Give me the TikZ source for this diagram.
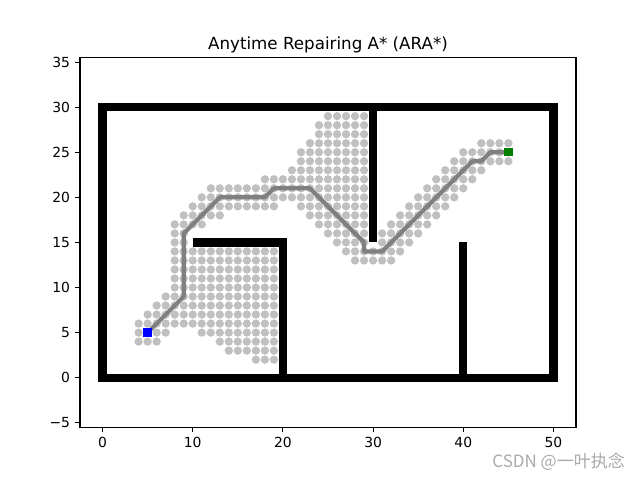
\documentclass[tikz,border=0pt]{standalone}
\usepackage{fontspec}
\setmainfont{DejaVu Sans}
\newfontfamily\cjk{Noto Sans CJK SC}
\definecolor{dotc}{RGB}{192,192,192}
\definecolor{pathc}{RGB}{128,128,128}
\definecolor{goalc}{RGB}{0,128,0}
\definecolor{wmark}{RGB}{170,170,170}
\newcommand\dotrow[3]{\foreach \i in {#2,...,#3}{\fill[dotc] (\i,#1) circle[radius=4.165pt];}}
\tikzset{
  wall/.style={line width=8.33pt, line cap=square, line join=miter, black},
  route/.style={line width=4.2pt, pathc, line join=round, line cap=butt},
  marker/.style={inner sep=0pt, minimum size=8.33pt, draw=none},
  ticklbl/.style={font=\fontsize{13.9}{16}\selectfont, inner sep=0pt},
  axline/.style={line width=1.1pt, black}
}
\begin{document}
\begin{tikzpicture}[x=1pt,y=1pt]
\useasboundingbox (0,0) rectangle (640,480);
\fill[white] (0,0) rectangle (640,480);
\node[anchor=base, font=\fontsize{16.7}{20}\selectfont, inner sep=0pt] (title) at (328,430.7) {Anytime Repairing A* (ARA*)};
\begin{scope}[shift={(102.55pt,102.31pt)}, x=9.018pt, y=9.018pt]
  % obstacles
  \draw[wall] (0,0) -- (50,0) -- (50,30) -- (0,30) -- cycle;
  \draw[wall] (10,15) -- (20,15) -- (20,0);
  \draw[wall] (30,15) -- (30,30);
  \draw[wall] (40,0) -- (40,15);
  % explored cells
  \dotrow{2}{17}{19}
  \dotrow{3}{14}{19}
  \dotrow{4}{4}{6} \dotrow{4}{13}{19}
  \dotrow{5}{4}{7} \dotrow{5}{11}{19}
  \dotrow{6}{4}{19}
  \dotrow{7}{5}{19}
  \dotrow{8}{6}{19}
  \dotrow{9}{7}{19}
  \dotrow{10}{8}{19}
  \dotrow{11}{8}{19}
  \dotrow{12}{8}{19}
  \dotrow{13}{8}{19} \dotrow{13}{28}{32}
  \dotrow{14}{8}{19} \dotrow{14}{27}{33}
  \dotrow{15}{8}{9} \dotrow{15}{26}{29} \dotrow{15}{31}{34}
  \dotrow{16}{8}{9} \dotrow{16}{25}{29} \dotrow{16}{31}{35}
  \dotrow{17}{8}{11} \dotrow{17}{24}{29} \dotrow{17}{32}{36}
  \dotrow{18}{9}{13} \dotrow{18}{23}{29} \dotrow{18}{33}{37}
  \dotrow{19}{10}{19} \dotrow{19}{22}{29} \dotrow{19}{34}{38}
  \dotrow{20}{11}{29} \dotrow{20}{35}{39}
  \dotrow{21}{12}{29} \dotrow{21}{36}{40}
  \dotrow{22}{18}{29} \dotrow{22}{37}{41}
  \dotrow{23}{21}{29} \dotrow{23}{38}{42}
  \dotrow{24}{22}{29} \dotrow{24}{39}{45}
  \dotrow{25}{22}{29} \dotrow{25}{40}{45}
  \dotrow{26}{23}{29} \dotrow{26}{42}{45}
  \dotrow{27}{24}{29}
  \dotrow{28}{24}{29}
  \dotrow{29}{25}{29}
  % start and goal
  \coordinate (s) at (5,5);
  \coordinate (g) at (45,25);
  \draw[route] (s) -- (9,9) -- (9,16) -- (13,20) -- (18,20) -- (19,21) -- (23,21) -- (29,15) -- (29,14) -- (31,14) -- (41,24) -- (42,24) -- (43,25) -- (g);
  \node[marker, fill=blue] (start) at (s) {};
  \node[marker, fill=goalc] (goal) at (g) {};
\end{scope}
% axes frame
\draw[axline] (80,52.8) rectangle (576,422.4);
% x ticks
\foreach \v in {0,10,20,30,40,50}{
  \draw[axline] ({102.55+9.018*\v},52.8) -- ++(0,-4.86);
  \node[ticklbl, anchor=north] (xl\v) at ({102.55+9.018*\v},43.08) {\v};
}
% y ticks
\foreach \v/\t in {-5/{−5},0/0,5/5,10/10,15/15,20/20,25/25,30/30,35/35}{
  \draw[axline] (80,{102.31+9.018*\v}) -- ++(-4.86,0);
  \node[ticklbl, anchor=east] (yl\v) at (70.28,{102.31+9.018*\v}) {\t};
}
\node[anchor=east, inner sep=0pt, text=wmark, font=\cjk\fontsize{17}{20}\selectfont] (wm) at (625,18) {CSDN @一叶执念};
\end{tikzpicture}
\end{document}
